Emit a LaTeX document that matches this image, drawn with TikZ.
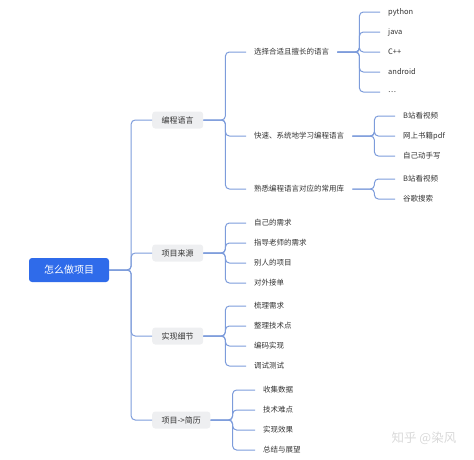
\documentclass[tikz,border=0pt]{standalone}
\usepackage{fontspec}
\newfontfamily\cjk{Noto Sans CJK SC}
\usetikzlibrary{positioning}
\definecolor{rootblue}{HTML}{2F6BEA}
\definecolor{linkblue}{HTML}{7D9CDB}
\definecolor{catgray}{HTML}{EEEFF1}
\definecolor{txtgray}{HTML}{333333}

\begin{document}
\begin{tikzpicture}[x=1pt,y=-1pt,
  root/.style={rectangle,rounded corners=3pt,fill=rootblue,text=white,font=\cjk\fontsize{10}{12}\selectfont,minimum width=80pt,minimum height=24pt,inner sep=0pt},
  cat/.style={rectangle,anchor=west,rounded corners=3pt,fill=catgray,text=txtgray,font=\cjk\fontsize{8}{10}\selectfont,minimum height=17pt,inner xsep=9.5pt,inner ysep=0pt},
  leaf/.style={anchor=west,text=txtgray,font=\cjk\fontsize{7.5}{9}\selectfont,inner xsep=8pt,inner ysep=2pt},
  link/.style={color=linkblue,line width=1pt,rounded corners=4pt}]
\useasboundingbox (0,0) rectangle (474,459);
\node[root] (root) at (69,270) {怎么做项目};
\foreach \t/\y [count=\i] in {编程语言/120,项目来源/253,实现细节/336,项目->简历/420}{
  \node[cat] (cat-\i) at (152,\y) {\t};
  \draw[link] (root.east) -- ++(22,0) |- (cat-\i.west);
};
\foreach \t/\y [count=\i] in {选择合适且擅长的语言/52,快速、系统地学习编程语言/136,熟悉编程语言对应的常用库/189}{
  \node[leaf] (lang-\i) at (246,\y) {\t};
  \draw[link] (cat-1.east) -- ++(22,0) |- (lang-\i.west);
};
\foreach \t [count=\i] in {python,java,C++,android,\ldots}{
  \node[leaf] (lang-1-\i) at (380,{12+20*(\i-1)}) {\t};
  \draw[link] (lang-1.east) -- ++(22,0) |- (lang-1-\i.west);
};
\foreach \t [count=\i] in {B站看视频,网上书籍pdf,自己动手写}{
  \node[leaf] (lang-2-\i) at (395,{116+20*(\i-1)}) {\t};
  \draw[link] (lang-2.east) -- ++(22,0) |- (lang-2-\i.west);
};
\foreach \t [count=\i] in {B站看视频,谷歌搜索}{
  \node[leaf] (lang-3-\i) at (395,{179+20*(\i-1)}) {\t};
  \draw[link] (lang-3.east) -- ++(22,0) |- (lang-3-\i.west);
};
\foreach \c/\x/\y/\items in {2/246/223/{自己的需求,指导老师的需求,别人的项目,对外接单},3/246/306/{梳理需求,整理技术点,编码实现,调试测试},4/255/390/{收集数据,技术难点,实现效果,总结与展望}}{
  \foreach \t [count=\i] in \items {
    \node[leaf] (item-\c-\i) at (\x,{\y+20*(\i-1)}) {\t};
    \draw[link] (cat-\c.east) -- ++(22,0) |- (item-\c-\i.west);
  };
};
\node[font=\cjk\fontsize{12.5}{14}\selectfont,text=gray!30] (mark) at (424,438) {知乎 @染风};
\end{tikzpicture}
\end{document}
